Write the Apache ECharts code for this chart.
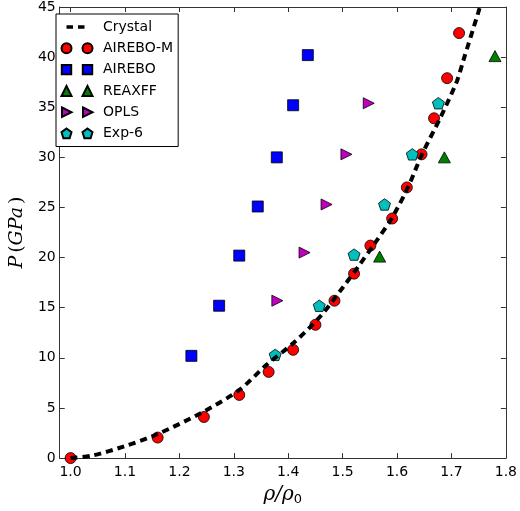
<!DOCTYPE html>
<html><head><meta charset="utf-8">
<script src="https://cdn.jsdelivr.net/npm/echarts@6/dist/echarts.min.js"></script>
<style>html,body{margin:0;padding:0;background:#fff}#c{width:520px;height:511px}</style>
</head><body><div id="c"></div>
<script>
// ---- data ----
const xTicks = [1.0, 1.1, 1.2, 1.3, 1.4, 1.5, 1.6, 1.7, 1.8];
const yTicks = [0, 5, 10, 15, 20, 25, 30, 35, 40, 45];

const crystalX = [1.00, 1.04, 1.10, 1.16, 1.245, 1.31, 1.36, 1.41, 1.46, 1.50, 1.53, 1.56, 1.59, 1.62, 1.645, 1.68, 1.71, 1.722, 1.749, 1.755];
const crystalY = [0, 0.25, 1.2, 2.4, 4.65, 6.8, 9.3, 11.5, 14.2, 17.0, 19.2, 21.5, 23.9, 27.0, 30.2, 34.0, 37.6, 39.7, 44.4, 45.5];

const airebomX = [1.0, 1.16, 1.245, 1.31, 1.364, 1.409, 1.45, 1.485, 1.521, 1.551, 1.591, 1.618, 1.645, 1.668, 1.692, 1.714];
const airebomY = [0, 2.05, 4.1, 6.3, 8.6, 10.8, 13.3, 15.7, 18.4, 21.2, 23.9, 27.0, 30.3, 33.9, 37.9, 42.4];

const aireboX = [1.222, 1.273, 1.310, 1.344, 1.379, 1.409, 1.436];
const aireboY = [10.2, 15.2, 20.2, 25.1, 30.0, 35.2, 40.2];

const reaxffX = [1.568, 1.687, 1.780];
const reaxffY = [20.1, 30.0, 40.1];

const oplsX = [1.380, 1.430, 1.4705, 1.507, 1.548];
const oplsY = [15.7, 20.5, 25.3, 30.3, 35.4];

const exp6X = [1.376, 1.457, 1.521, 1.577, 1.628, 1.676];
const exp6Y = [10.3, 15.2, 20.3, 25.3, 30.3, 35.4];

// ---- chart ----
function pairs(xs, ys) { return xs.map((x, i) => [x, ys[i]]); }
const FONT = 'DejaVu Sans';
const pent = 'path://M0,-1L0.951,-0.309L0.588,0.809L-0.588,0.809L-0.951,-0.309Z';

const B = 'M0,0L0,0M32,11L32,11';
const icons = {
  crystal: 'path://' + B + 'M5.5,3.8h6.5v3.4h-6.5ZM17,3.8h6.5v3.4h-6.5Z',
  circle: 'path://' + B + 'M0.5,5.5a5,5 0 1,0 10,0a5,5 0 1,0 -10,0ZM21.5,5.5a5,5 0 1,0 10,0a5,5 0 1,0 -10,0Z',
  square: 'path://' + B + 'M0.8,0.8h9.4v9.4h-9.4ZM21.8,0.8h9.4v9.4h-9.4Z',
  tri: 'path://' + B + 'M5.5,0.5L10.5,10.5L0.5,10.5ZM26.5,0.5L31.5,10.5L21.5,10.5Z',
  rtri: 'path://' + B + 'M1,0.8L10.5,5.5L1,10.2ZM22,0.8L31.5,5.5L22,10.2Z',
  pent: 'path://' + B + 'M5.5,0.5L10.5,4.2L8.6,10.2L2.4,10.2L0.5,4.2ZM26.5,0.5L31.5,4.2L29.6,10.2L23.4,10.2L21.5,4.2Z'
};

const edge = { borderColor: '#000', borderWidth: 0.8, opacity: 1 };
const chart = echarts.init(document.getElementById('c'), null, { renderer: 'canvas' });

const xBase = {
  type: 'value', min: 0.98, max: 1.8,
  axisLine: { show: true, onZero: false, lineStyle: { color: '#333', width: 1 } },
  axisTick: { show: true, inside: true, length: 5, customValues: xTicks, lineStyle: { color: '#333' } },
  splitLine: { show: false }
};
const yBase = {
  type: 'value', min: 0, max: 45, interval: 5,
  axisLine: { show: true, onZero: false, lineStyle: { color: '#333', width: 1 } },
  axisTick: { show: true, inside: true, length: 5, lineStyle: { color: '#333' } },
  splitLine: { show: false }
};

chart.setOption({
  animation: false,
  backgroundColor: '#fff',
  grid: { left: 49, right: 13, top: 7, bottom: 47, containLabel: false },
  legend: {
    orient: 'vertical', left: 56, top: 14,
    backgroundColor: '#fff', borderColor: '#000', borderWidth: 1, borderRadius: 0,
    padding: [6, 5, 6, 4], itemGap: 7.3, itemWidth: 32, itemHeight: 11,
    textStyle: { fontFamily: FONT, fontSize: 14, color: '#000', lineHeight: 14, padding: [0, 0, 0, 5] },
    data: [
      { name: 'Crystal', icon: icons.crystal, itemStyle: { color: '#000', borderWidth: 0 } },
      { name: 'AIREBO-M', icon: icons.circle },
      { name: 'AIREBO', icon: icons.square },
      { name: 'REAXFF', icon: icons.tri },
      { name: 'OPLS', icon: icons.rtri },
      { name: 'Exp-6', icon: icons.pent }
    ]
  },
  xAxis: [
    Object.assign({}, xBase, {
      position: 'bottom',
      axisLabel: { customValues: xTicks, formatter: v => Number(v).toFixed(1), fontFamily: FONT, fontSize: 14, color: '#000', margin: 7 },
      name: '{a|ρ/ρ}{b|0}', nameLocation: 'middle', nameGap: 24,
      nameTextStyle: { rich: {
        a: { fontFamily: 'DejaVu Serif', fontStyle: 'italic', fontSize: 20, color: '#000', lineHeight: 24 },
        b: { fontFamily: 'DejaVu Sans', fontSize: 13, color: '#000', lineHeight: 24, padding: [9, 0, 0, 0] }
      } }
    }),
    Object.assign({}, xBase, { position: 'top', axisLabel: { show: false } })
  ],
  yAxis: [
    Object.assign({}, yBase, {
      position: 'left',
      axisLabel: { customValues: yTicks, fontFamily: FONT, fontSize: 14, color: '#000', margin: 4 },
      name: '{i|P}{r|(}{i|GPa}{r|)}', nameLocation: 'middle', nameGap: 27, nameRotate: 90,
      nameTextStyle: { rich: {
        i: { fontFamily: 'DejaVu Serif', fontStyle: 'italic', fontSize: 19, color: '#000' },
        r: { fontFamily: 'DejaVu Serif', fontSize: 19, color: '#000', padding: [0, 0, 0, 3] }
      } }
    }),
    Object.assign({}, yBase, { position: 'right', axisLabel: { show: false } })
  ],
  series: [
    { name: 'Crystal', type: 'line', data: pairs(crystalX, crystalY), smooth: 0.3, showSymbol: false, symbol: 'none',
      lineStyle: { color: '#000', width: 4, type: [7, 5] }, itemStyle: { color: '#000' }, z: 5, clip: true },
    { name: 'AIREBO-M', type: 'scatter', data: pairs(airebomX, airebomY), symbol: 'circle', symbolSize: 11,
      itemStyle: Object.assign({ color: '#ff0000' }, edge), z: 3 },
    { name: 'AIREBO', type: 'scatter', data: pairs(aireboX, aireboY), symbol: 'rect', symbolSize: 11,
      itemStyle: Object.assign({ color: '#0000ff' }, edge), z: 3 },
    { name: 'REAXFF', type: 'scatter', data: pairs(reaxffX, reaxffY), symbol: 'triangle', symbolSize: [12, 11],
      itemStyle: Object.assign({ color: '#008000' }, edge), z: 3 },
    { name: 'OPLS', type: 'scatter', data: pairs(oplsX, oplsY), symbol: 'triangle', symbolRotate: -90, symbolSize: [11, 11],
      itemStyle: Object.assign({ color: '#bf00bf' }, edge), z: 3 },
    { name: 'Exp-6', type: 'scatter', data: pairs(exp6X, exp6Y), symbol: pent, symbolKeepAspect: true, symbolSize: 12,
      itemStyle: Object.assign({ color: '#00bfbf' }, edge), z: 3 }
  ]
});
</script>
</body></html>
